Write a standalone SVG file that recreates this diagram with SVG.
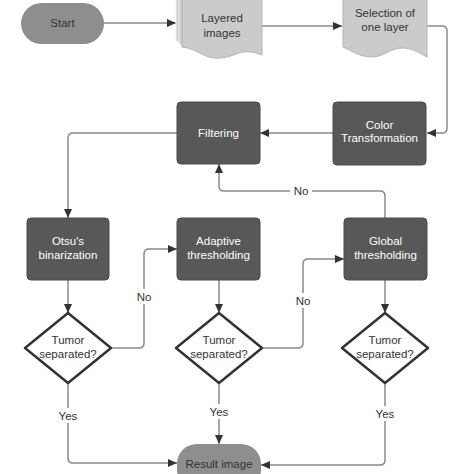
<svg xmlns="http://www.w3.org/2000/svg" width="474" height="474" viewBox="0 0 474 474">
<defs>
<marker id="arr" markerUnits="userSpaceOnUse" markerWidth="10" markerHeight="8" refX="9" refY="4" orient="auto">
<path d="M0,0 L9,4 L0,8 Z" fill="#333"/>
</marker>
<style>
.bg{fill:#fff}
.proc{fill:#585858;stroke:#4a4a4a;stroke-width:1}
.term{fill:#8e8e8e}
.doc{fill:#cbcbcb;stroke:#b5b5b5;stroke-width:1}
.docb{fill:#cfcfcf;stroke:#efefef;stroke-width:1}
.dia{fill:#fff;stroke:#333;stroke-width:2.5;stroke-linejoin:round}
.wt{fill:#fff;font-family:"Liberation Sans",Arial,sans-serif;font-size:11.5px;text-anchor:middle}
.dt{fill:#333;font-family:"Liberation Sans",Arial,sans-serif;font-size:11.5px;text-anchor:middle}
.con{fill:none;stroke:#8a8a8a;stroke-width:1.5}
.lbl{fill:#333;font-family:"Liberation Sans",Arial,sans-serif;font-size:11.5px;text-anchor:middle}
</style>
</defs>
<rect class="bg" x="0" y="0" width="474" height="474"/>

<g id="connectors">
<path class="con" d="M104,23 H176" marker-end="url(#arr)"/>
<path class="con" d="M262,26 H342" marker-end="url(#arr)"/>
<path class="con" d="M427,26 H442 Q447,26 447,31 V128 Q447,133 442,133 H427" marker-end="url(#arr)"/>
<path class="con" d="M333,133 H260" marker-end="url(#arr)"/>
<path class="con" d="M177,133 H73 Q68,133 68,138 V218" marker-end="url(#arr)"/>
<path class="con" d="M68,280 V313" marker-end="url(#arr)"/>
<path class="con" d="M219,280 V313" marker-end="url(#arr)"/>
<path class="con" d="M385,280 V313" marker-end="url(#arr)"/>
<path class="con" d="M385,218 V196 Q385,191 380,191 H224 Q219,191 219,186 V164" marker-end="url(#arr)"/>
<path class="con" d="M111,348 H139 Q144,348 144,343 V254 Q144,249 149,249 H177" marker-end="url(#arr)"/>
<path class="con" d="M262,348 H298 Q303,348 303,343 V264 Q303,259 308,259 H344" marker-end="url(#arr)"/>
<path class="con" d="M68,383 V458 Q68,463 73,463 H177" marker-end="url(#arr)"/>
<path class="con" d="M219,383 V444" marker-end="url(#arr)"/>
<path class="con" d="M385,383 V460 Q385,465 380,465 H261" marker-end="url(#arr)"/>
<rect class="bg" x="290" y="183" width="22" height="15"/>
<text class="lbl" x="301" y="195">No</text>
<rect class="bg" x="133" y="289" width="22" height="15"/>
<text class="lbl" x="144" y="301">No</text>
<rect class="bg" x="292" y="293" width="22" height="15"/>
<text class="lbl" x="303" y="305">No</text>
<rect class="bg" x="56" y="408" width="24" height="15"/>
<text class="lbl" x="68" y="420">Yes</text>
<rect class="bg" x="207" y="404" width="24" height="15"/>
<text class="lbl" x="219" y="416">Yes</text>
<rect class="bg" x="373" y="406" width="24" height="15"/>
<text class="lbl" x="385" y="418">Yes</text>
</g>

<g id="start">
<rect class="term" x="21" y="3" width="83" height="41" rx="20.5"/>
<text class="dt" x="62.5" y="27">Start</text>
</g>

<g id="layered">
<path class="docb" d="M176,-10 H256 V49 C248,46 240,44 230,48 C218,53 206,54 196,48 C190,45 184,42 176,41 Z"/>
<path class="docb" d="M179,-7 H259 V52 C251,49 243,47 233,51 C221,56 209,57 199,51 C193,48 187,45 179,44 Z"/>
<path class="doc" d="M182,-4 H262 V55 C254,52 246,50 236,54 C224,59 212,60 202,54 C196,51 190,48 182,47 Z"/>
<text class="dt" x="222" y="22">Layered</text>
<text class="dt" x="222" y="37">images</text>
</g>

<g id="selection">
<path class="doc" d="M343,-4 H427 V57 C420,53 412,48 402,48 C390,48 384,57 372,57 C360,57 352,51 343,47 Z"/>
<text class="dt" x="385" y="17">Selection of</text>
<text class="dt" x="385" y="31">one layer</text>
</g>

<g id="color">
<rect class="proc" x="333" y="102" width="93" height="63" rx="4"/>
<text class="wt" x="379.5" y="129">Color</text>
<text class="wt" x="379.5" y="142">Transformation</text>
</g>

<g id="filtering">
<rect class="proc" x="177" y="102" width="83" height="62" rx="4"/>
<text class="wt" x="218.5" y="137">Filtering</text>
</g>

<g id="otsu">
<rect class="proc" x="27" y="218" width="82" height="62" rx="4"/>
<text class="wt" x="68" y="245">Otsu's</text>
<text class="wt" x="68" y="259">binarization</text>
</g>

<g id="adaptive">
<rect class="proc" x="177" y="218" width="83" height="62" rx="4"/>
<text class="wt" x="218.5" y="245">Adaptive</text>
<text class="wt" x="218.5" y="259">thresholding</text>
</g>

<g id="global">
<rect class="proc" x="344" y="218" width="83" height="62" rx="4"/>
<text class="wt" x="385.5" y="245">Global</text>
<text class="wt" x="385.5" y="259">thresholding</text>
</g>

<g id="dec1">
<path class="dia" d="M68,313 L111,348 L68,383 L25,348 Z"/>
<text class="dt" x="68" y="344">Tumor</text>
<text class="dt" x="68" y="358">separated?</text>
</g>

<g id="dec2">
<path class="dia" d="M219,313 L262,348 L219,383 L176,348 Z"/>
<text class="dt" x="219" y="344">Tumor</text>
<text class="dt" x="219" y="358">separated?</text>
</g>

<g id="dec3">
<path class="dia" d="M385,313 L428,348 L385,383 L342,348 Z"/>
<text class="dt" x="385" y="344">Tumor</text>
<text class="dt" x="385" y="358">separated?</text>
</g>

<g id="result">
<rect class="term" x="177" y="444" width="84" height="46" rx="20"/>
<text class="dt" x="219" y="468">Result image</text>
</g>
</svg>
